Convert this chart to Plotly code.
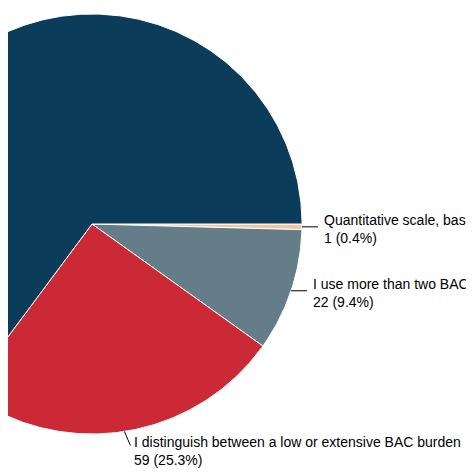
import numpy as np
import plotly.graph_objects as go

# slices, clockwise from 3 o'clock
labels = ["Quantitative scale, based on the number of calcifications",
          "I use more than two BAC categories",
          "I distinguish between a low or extensive BAC burden",
          "I only note presence or absence of BAC"]
counts = [1, 22, 59, 151]
colors = ["#f6c49e", "#647d88", "#cc2936", "#0b3c5a"]

cx, cy, r = 92, 224, 210
total = sum(counts)

fig = go.Figure()
start = 0.0
mids = []
for lab, n, col in zip(labels, counts, colors):
    sweep = 2 * np.pi * n / total
    t = np.linspace(start, start + sweep, max(int(n * 3), 4))
    xs = np.concatenate([[cx], cx + r * np.cos(t), [cx]])
    ys = np.concatenate([[cy], cy + r * np.sin(t), [cy]])
    fig.add_trace(go.Scatter(x=xs, y=ys, fill="toself", fillcolor=col, mode="lines",
                             line=dict(color="white", width=1), hoverinfo="text",
                             text=lab, showlegend=False))
    mids.append(start + sweep / 2)
    start += sweep

# labels with short leader lines
for i in range(3):
    a = mids[i]
    x0, y0 = cx + r * np.cos(a), cy + r * np.sin(a)
    pct = 100 * counts[i] / total
    if i == 2:
        x1, y1 = x0 + 6, y0 + 14
        tx, ty = x1 + 2, y1 + 6
    else:
        x1, y1 = x0 + 16, y0
        tx, ty = x1 + 4, y1 + 2
    fig.add_trace(go.Scatter(x=[x0, x1], y=[y0, y1], mode="lines",
                             line=dict(color="black", width=1), showlegend=False,
                             hoverinfo="skip"))
    fig.add_annotation(x=tx, y=ty, text=f"{labels[i]}<br>{counts[i]} ({pct:.1f}%)",
                       showarrow=False, xanchor="left", yanchor="middle", align="left",
                       font=dict(family="Liberation Sans, Arial", size=14, color="black"))

# page body adds an 8px offset, so shift the view to compensate
fig.update_xaxes(range=[8, 482], visible=False)
fig.update_yaxes(range=[482, 8], visible=False)
fig.update_layout(width=474, height=474, margin=dict(l=0, r=0, t=0, b=0),
                  plot_bgcolor="white", paper_bgcolor="white")
fig.write_html("out.html")
